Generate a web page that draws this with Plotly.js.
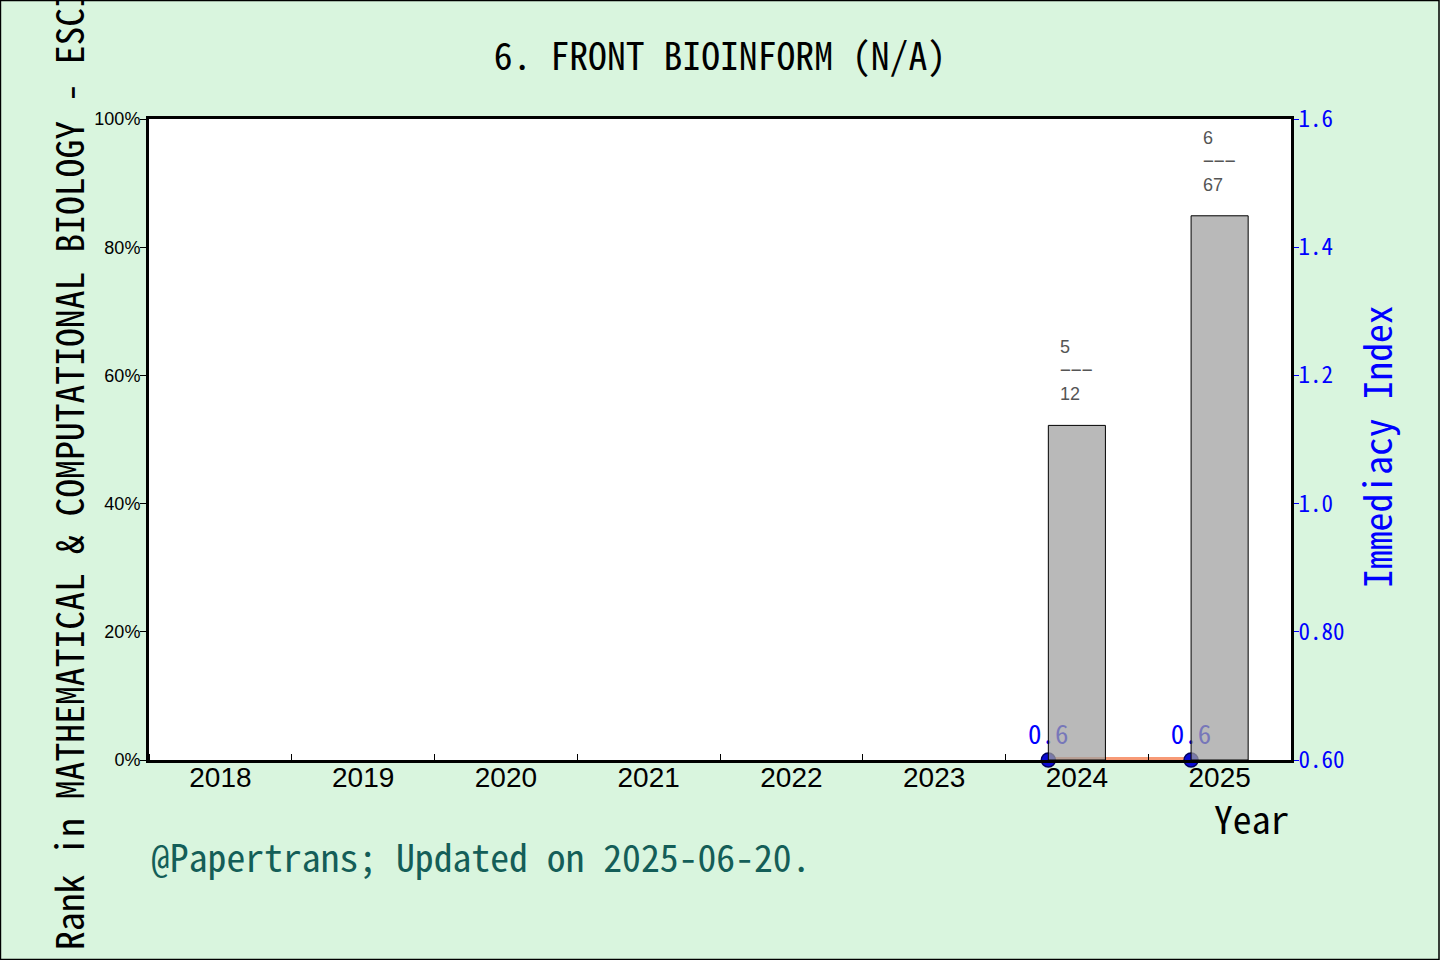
<!DOCTYPE html>
<html>
<head>
<meta charset="utf-8">
<script src="https://cdn.plot.ly/plotly-3.0.1.min.js"></script>
<style>
  html,body{margin:0;padding:0;background:#d9f5de;}
  #chart{width:1440px;height:960px;}
</style>
</head>
<body>
<div id="chart"></div>
<script>
// ── data ─────────────────────────────────────────────────────────────────────
const years      = [2018, 2019, 2020, 2021, 2022, 2023, 2024, 2025];
const rankPct    = [null, null, null, null, null, null, 52.2, 84.9];
const rankNum    = [null, null, null, null, null, null, 5, 6];
const rankTotal  = [null, null, null, null, null, null, 12, 67];
const immediacy  = [null, null, null, null, null, null, 0.6, 0.6];
const rightTicks = [0.6, 0.8, 1.0, 1.2, 1.4, 1.6];
const rightLabels= ['0.60', '0.80', '1.0', '1.2', '1.4', '1.6'];

const MONO = '"Noto Sans Mono CJK SC", "DejaVu Sans Mono", monospace';
const SANS = '"Liberation Sans", Arial, sans-serif';
const BIG = 37.7;

// markers sit on the left edge of each bar
const markX = years.map(y => y - 0.2);

const traces = [
  {x: markX, y: immediacy, yaxis: 'y', mode: 'lines', type: 'scatter', cliponaxis: false,
   line: {color: '#f79a76', width: 6}, hoverinfo: 'skip'},
  {x: markX, y: immediacy, yaxis: 'y', mode: 'markers+text', type: 'scatter', cliponaxis: false,
   marker: {size: 14, color: '#0a0ad2', line: {color: '#000060', width: 1.5}},
   text: immediacy.map(v => v == null ? '' : v.toFixed(1)),
   textposition: 'top center',
   textfont: {family: MONO, size: 27, color: '#0000ff'}},
  {x: years, y: rankPct, yaxis: 'y2', type: 'bar', width: 0.4,
   marker: {color: 'rgba(160,160,160,0.74)', line: {color: '#000', width: 1}}},
];

const notes = years.map((yr, i) => rankPct[i] == null ? null : ({
  x: yr, y: rankPct[i], xref: 'x', yref: 'y2', yanchor: 'bottom', xanchor: 'center',
  yshift: 19, showarrow: false, align: 'left',
  text: `${rankNum[i]}<br><span style="font-family:'DejaVu Sans Mono'">−−−</span><br>${rankTotal[i]}`,
  font: {family: SANS, size: 18, color: '#555'}
})).filter(Boolean);

const PL = 149, PR = 149, PT = 119, PB = 200, W = 1440, H = 960;
const pw = W - PL - PR, ph = H - PT - PB;

const layout = {
  width: W, height: H,
  margin: {l: PL, r: PR, t: PT, b: PB, pad: 0},
  paper_bgcolor: '#d9f5de', plot_bgcolor: '#ffffff',
  showlegend: false, bargap: 0,
  title: {text: '6. FRONT BIOINFORM (N/A)', x: 0.5, xref: 'paper', xanchor: 'center',
          y: 1 - 57 / H, yref: 'container', yanchor: 'middle',
          font: {family: MONO, size: BIG, color: '#000'}},
  xaxis: {type: 'linear', range: [2017.5, 2025.5], tickmode: 'array', tickvals: years,
          ticktext: years.map(String), ticks: '', showgrid: false, zeroline: false,
          showline: true, linewidth: 3, linecolor: '#000', mirror: true,
          ticklabelstandoff: -10,
          tickfont: {family: SANS, size: 28, color: '#000'},
          minor: {ticks: 'inside', ticklen: 6, tickwidth: 1, tickcolor: '#000',
                  tick0: 2017.5, dtick: 1, showgrid: false}},
  yaxis: {side: 'right', range: [0.6, 1.6], tickmode: 'array', tickvals: rightTicks,
          ticktext: rightLabels, ticks: 'outside', ticklen: 5, tickwidth: 1, tickcolor: '#0000ff',
          ticklabelstandoff: -5,
          tickfont: {family: MONO, size: 23, color: '#0000ff'},
          showgrid: false, zeroline: false, showline: true, linewidth: 3, linecolor: '#000'},
  yaxis2: {overlaying: 'y', side: 'left', range: [0, 100], dtick: 20, tick0: 0,
           ticksuffix: '%', ticks: 'outside', ticklen: 6, tickwidth: 1, tickcolor: '#000',
           ticklabelstandoff: -4,
           tickfont: {family: SANS, size: 18, color: '#000'},
           showgrid: false, zeroline: false, showline: true, linewidth: 3, linecolor: '#000'},
  annotations: notes.concat([
    {text: 'Rank in MATHEMATICAL & COMPUTATIONAL BIOLOGY - ESCI', textangle: -90,
     xref: 'paper', yref: 'paper', x: (67 - PL) / pw, y: (760 - 470) / ph,
     xanchor: 'center', yanchor: 'middle', showarrow: false,
     font: {family: MONO, size: BIG, color: '#000'}},
    {text: 'Immediacy Index', textangle: -90,
     xref: 'paper', yref: 'paper', x: (1375 - PL) / pw, y: (760 - 447) / ph,
     xanchor: 'center', yanchor: 'middle', showarrow: false,
     font: {family: MONO, size: BIG, color: '#0000ff'}},
    {text: 'Year', xref: 'paper', yref: 'paper', x: 1, y: (760 - 817) / ph,
     xanchor: 'right', yanchor: 'middle', showarrow: false,
     font: {family: MONO, size: BIG, color: '#000'}},
    {text: '@Papertrans; Updated on 2025-06-20.', xref: 'paper', yref: 'paper',
     x: 0, y: (760 - 855) / ph, xanchor: 'left', yanchor: 'middle', showarrow: false,
     font: {family: MONO, size: BIG, color: '#145e58'}},
  ]),
  shapes: [
    {type: 'rect', xref: 'paper', yref: 'paper', layer: 'above',
     x0: -PL / pw + 0.0004, x1: 1 + (PR - 1) / pw, y0: -PB / ph + 0.0008, y1: 1 + (PT - 0.5) / ph,
     line: {color: '#000', width: 1.5}, fillcolor: 'rgba(0,0,0,0)'}
  ]
};

Plotly.newPlot('chart', traces, layout, {staticPlot: true});
</script>
</body>
</html>
